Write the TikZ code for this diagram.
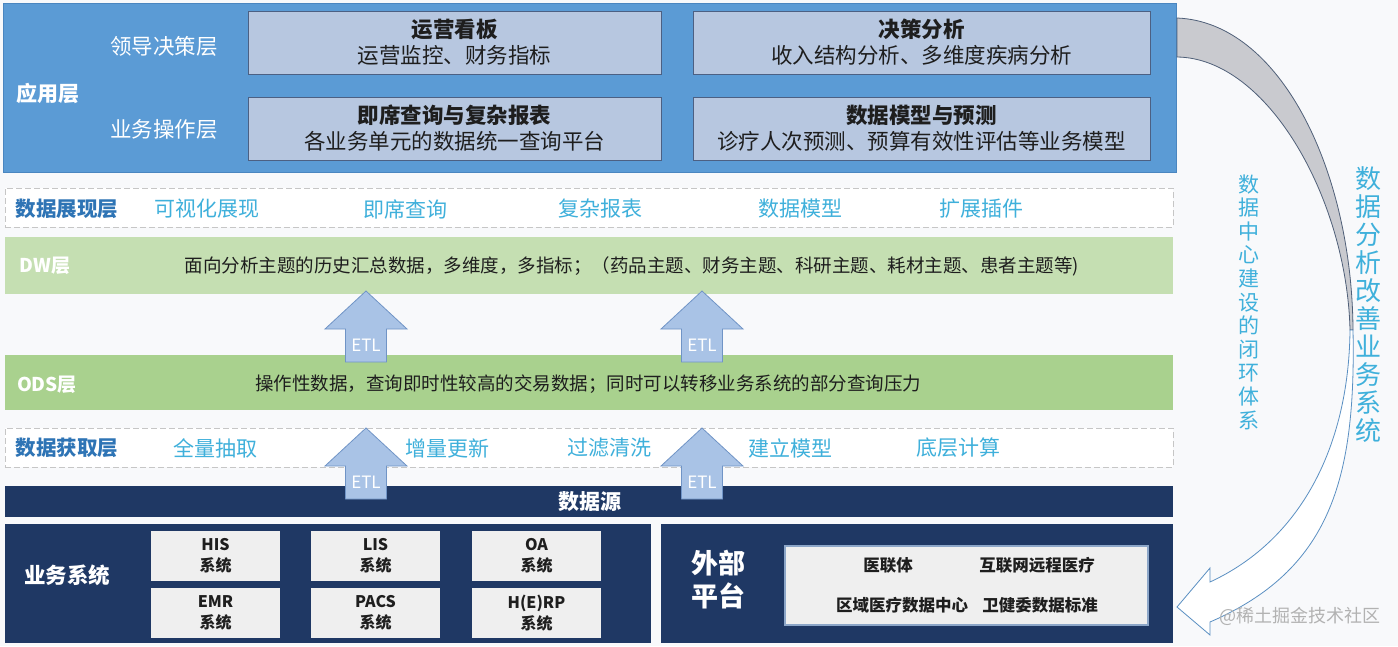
\documentclass[tikz,border=0pt]{standalone}
\usepackage{fontspec}
\setmainfont{Noto Sans CJK SC}
\definecolor{bg}{HTML}{F8F9FB}
\definecolor{appblue}{HTML}{5B9BD5}
\definecolor{appedge}{HTML}{4A86C0}
\definecolor{appbox}{HTML}{B7C7E0}
\definecolor{navy}{HTML}{1F3864}
\definecolor{dwgreen}{HTML}{C5DFB2}
\definecolor{odsgreen}{HTML}{A9D18E}
\definecolor{etlfill}{HTML}{A9C3E6}
\definecolor{etledge}{HTML}{7094C6}
\definecolor{cyantext}{HTML}{3FB0DB}
\definecolor{labelblue}{HTML}{2E74B5}
\definecolor{sysbox}{HTML}{EFEFEF}
\definecolor{darktext}{HTML}{1E1E1E}
\definecolor{extedge}{HTML}{8CA6C8}
\definecolor{bandgray}{HTML}{C9CACF}
\definecolor{bandedge}{HTML}{4F5F78}
\definecolor{arrowedge}{HTML}{5A8FC2}
\newcommand\fs[2]{\fontsize{#1}{#2}\selectfont}
\newcommand\etlarrow[3]{%
  \path[etlarrowstyle] (#2,#3) -- ({#2+41},{#3+38}) -- ({#2+20.5},{#3+38}) -- ({#2+20.5},{#3+71})
    -- ({#2-20.5},{#3+71}) -- ({#2-20.5},{#3+38}) -- ({#2-41},{#3+38}) -- cycle;
  \node[etltext] (#1) at (#2,{#3+54}) {ETL};}
\begin{document}
\begin{tikzpicture}[x=1pt,y=-1pt,
  box/.style={draw, anchor=north west, outer sep=0pt, inner sep=0pt},
  appinner/.style={box, fill=appbox, draw=navy!80, line width=1pt, minimum width=413, minimum height=63, align=center, text=darktext, font=\fs{21.5}{26}},
  layerlabel/.style={font=\bfseries\fs{20.5}{22}, text=labelblue, inner sep=0pt},
  item/.style={font=\fs{21}{22}, text=cyantext, inner sep=0pt},
  whitelabel/.style={font=\bfseries\fs{19}{22}, text=white, inner sep=0pt},
  sys/.style={box, draw=none, fill=sysbox, minimum width=129, minimum height=50, align=center, font=\bfseries\fs{16}{20.5}, text=darktext},
  etlarrowstyle/.style={fill=etlfill, draw=etledge, line width=0.8pt},
  etltext/.style={font=\fs{17}{20}, text=white, inner sep=0pt},
  dashbox/.style={box, draw=gray!45, fill=white, dash pattern=on 6pt off 3pt, line width=0.8pt, minimum width=1168, minimum height=39},
  vtext/.style={align=center, text=cyantext, inner sep=0pt}
  ]
\fill[bg] (0,0) rectangle (1398,646);
\useasboundingbox (0,0) rectangle (1398,646);

% application layer
\node[box, fill=appblue, draw=appedge, line width=1pt, minimum width=1173, minimum height=169] (app) at (3,3) {};
\node[whitelabel, font=\bfseries\fs{21}{22}] (applabel) at (48,93) {应用层};
\node[font=\fs{21.5}{22}, text=white, inner sep=0pt] (lead) at (164,46) {领导决策层};
\node[font=\fs{21.5}{22}, text=white, inner sep=0pt] (oper) at (164,129) {业务操作层};
\node[appinner] (b1) at (248,11) {\textbf{运营看板}\\运营监控、财务指标};
\node[appinner] (b2) at (248,97) {\textbf{即席查询与复杂报表}\\各业务单元的数据统一查询平台};
\node[appinner, minimum width=457] (b3) at (693,11) {\textbf{决策分析}\\收入结构分析、多维度疾病分析};
\node[appinner, minimum width=457] (b4) at (693,97) {\textbf{数据模型与预测}\\诊疗人次预测、预算有效性评估等业务模型};

% presentation layer
\node[dashbox] (pres) at (5,188) {};
\node[layerlabel] (preslabel) at (67,209) {数据展现层};
\node[item] (p1) at (207,209) {可视化展现};
\node[item] (p2) at (405,209) {即席查询};
\node[item] (p3) at (600,209) {复杂报表};
\node[item] (p4) at (800,209) {数据模型};
\node[item] (p5) at (981,209) {扩展插件};

% DW layer
\node[box, draw=none, fill=dwgreen, minimum width=1168, minimum height=57] (dw) at (5,237) {};
\node[whitelabel, font=\bfseries\fs{19}{22}] (dwlabel) at (45,266) {DW层};
\node[font=\fs{18.5}{22}, text=darktext, inner sep=0pt] (dwtext) at (632,266) {面向分析主题的历史汇总数据，多维度，多指标；（药品主题、财务主题、科研主题、耗材主题、患者主题等)};

% ODS layer
\node[box, draw=none, fill=odsgreen, minimum width=1168, minimum height=55] (ods) at (5,355) {};
\node[whitelabel, font=\bfseries\fs{19}{22}] (odslabel) at (47,385) {ODS层};
\node[font=\fs{18.5}{22}, text=darktext, inner sep=0pt] (odstext) at (588,384) {操作性数据，查询即时性较高的交易数据；同时可以转移业务系统的部分查询压力};

% acquisition layer
\node[dashbox] (acq) at (5,428) {};
\node[layerlabel] (acqlabel) at (67,448) {数据获取层};
\node[item] (a1) at (215,448) {全量抽取};
\node[item] (a2) at (447,448) {增量更新};
\node[item] (a3) at (609,448) {过滤清洗};
\node[item] (a4) at (790,448) {建立模型};
\node[item] (a5) at (958,448) {底层计算};

% data source bar
\node[box, draw=none, fill=navy, minimum width=1168, minimum height=31] (src) at (5,486) {};
\node[whitelabel, font=\bfseries\fs{21}{22}] (srclabel) at (590,502) {数据源};

% business systems
\node[box, draw=none, fill=navy, minimum width=646, minimum height=119] (bus) at (5,524) {};
\node[whitelabel, font=\bfseries\fs{21.5}{22}] (buslabel) at (67,575) {业务系统};
\node[sys] (his) at (151,531) {HIS\\系统};
\node[sys] (lis) at (311,531) {LIS\\系统};
\node[sys] (oa) at (472,531) {OA\\系统};
\node[sys] (emr) at (151,588) {EMR\\系统};
\node[sys] (pacs) at (311,588) {PACS\\系统};
\node[sys] (herp) at (472,588) {H(E)RP\\系统};

% external platform
\node[box, draw=none, fill=navy, minimum width=512, minimum height=119] (ext) at (661,524) {};
\node[align=center, text=white, font=\bfseries\fs{27}{33}, inner sep=0pt] (extlabel) at (718,580) {外部\\平台};
\node[box, fill=sysbox, draw=extedge, line width=2.5pt, minimum width=363, minimum height=79] (extbox) at (785,546) {};
\node[font=\bfseries\fs{16.5}{20}, text=darktext, inner sep=0pt] (e1) at (888,565) {医联体};
\node[font=\bfseries\fs{16.5}{20}, text=darktext, inner sep=0pt] (e2) at (1037,565) {互联网远程医疗};
\node[font=\bfseries\fs{16.5}{20}, text=darktext, inner sep=0pt] (e3) at (902,605) {区域医疗数据中心};
\node[font=\bfseries\fs{16.5}{20}, text=darktext, inner sep=0pt] (e4) at (1040,605) {卫健委数据标准};

% ETL arrows
\etlarrow{etl1}{366}{291}
\etlarrow{etl2}{702}{291}
\etlarrow{etl3}{366}{428}
\etlarrow{etl4}{702}{428}

% curved loop arrow
\path[fill=bandgray, draw=bandedge, line width=0.8pt]
  (1177,18) .. controls (1280,22) and (1352,170) .. (1353,330)
  -- (1350,330) .. controls (1347,200) and (1268,58) .. (1177,57) -- cycle;
\path[fill=white, draw=arrowedge, line width=0.8pt]
  (1353,330) .. controls (1356,480) and (1330,570) .. (1210,622)
  -- (1210,635) -- (1177,607) -- (1210,568) -- (1210,582)
  .. controls (1305,538) and (1349,440) .. (1350,330) -- cycle;

% vertical texts
\node[vtext, font=\fs{21}{23.6}] (loop1) at (1249,302) {数\\据\\中\\心\\建\\设\\的\\闭\\环\\体\\系};
\node[vtext, font=\fs{26}{28}] (loop2) at (1368,305) {数\\据\\分\\析\\改\\善\\业\\务\\系\\统};

% watermark
\node[font=\fs{18}{20}, text=gray!60, inner sep=0pt] (wm) at (1300,616) {@稀土掘金技术社区};
\end{tikzpicture}
\end{document}
